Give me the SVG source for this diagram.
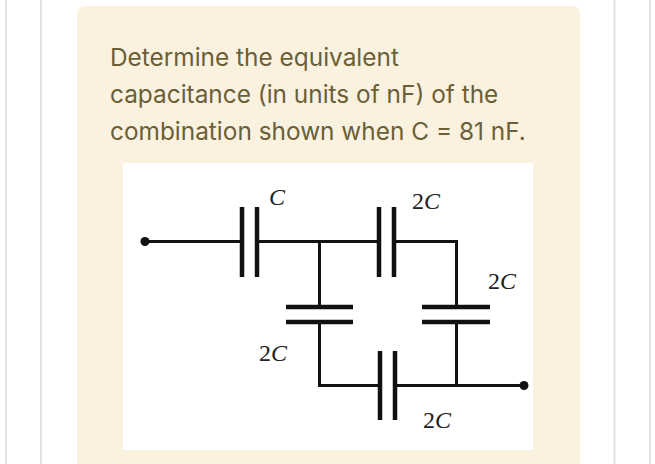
<svg xmlns="http://www.w3.org/2000/svg" width="655" height="464" viewBox="0 0 655 464">
<style>
.q{font-family:"Inter","Liberation Sans",sans-serif;font-size:24.400px;fill:#6b5f38}
.l{font-family:"Liberation Serif",serif;font-size:24px;fill:#222}
.l tspan{font-style:italic}
.w{fill:none;stroke:#111;stroke-width:3;stroke-linejoin:miter}
.p{fill:none;stroke:#111;stroke-width:4.500}
.e{stroke:#e2e2e2;stroke-width:2}
</style>
<rect width="655" height="464" fill="#fff"/>
<line class="e" x1="6" y1="0" x2="6" y2="464"/>
<line class="e" x1="41" y1="0" x2="41" y2="464"/>
<line class="e" x1="614.500" y1="0" x2="614.500" y2="464"/>
<line class="e" x1="650" y1="0" x2="650" y2="464"/>
<path d="M77 464V14a8 8 0 0 1 8-8H572a8 8 0 0 1 8 8V464Z" fill="#faf2df"/>
<text class="q" x="110" y="66">Determine the equivalent</text>
<text class="q" x="110" y="103">capacitance (in units of nF) of the</text>
<text class="q" x="110" y="140">combination shown when C = 81 nF.</text>
<rect x="123" y="163" width="410" height="287" fill="#fff"/>
<g id="connectors">
<path class="w" d="M145 241.500H242M257 241.500H379M394 241.500H456.500V307M319.500 241.500V307M319.500 322V385.500H380M395 385.500H524M456.500 322V385.500"/>
</g>
<g id="terminal-a"><circle cx="145" cy="241.500" r="4.500" fill="#111"/></g>
<g id="terminal-b"><circle cx="524" cy="385.500" r="4.500" fill="#111"/></g>
<g id="cap-c">
<path class="p" d="M242 207V277M257 207V277"/>
<text class="l" x="269" y="205"><tspan>C</tspan></text>
</g>
<g id="cap-top">
<path class="p" d="M379 207V277M394 207V277"/>
<text class="l" x="412" y="209">2<tspan>C</tspan></text>
</g>
<g id="cap-left">
<path class="p" d="M286 307H353M286 322H353"/>
<text class="l" x="259" y="361">2<tspan>C</tspan></text>
</g>
<g id="cap-right">
<path class="p" d="M422 307H490M422 322H490"/>
<text class="l" x="488" y="289">2<tspan>C</tspan></text>
</g>
<g id="cap-bottom">
<path class="p" d="M380 351V420M395 351V420"/>
<text class="l" x="423" y="428">2<tspan>C</tspan></text>
</g>
</svg>
